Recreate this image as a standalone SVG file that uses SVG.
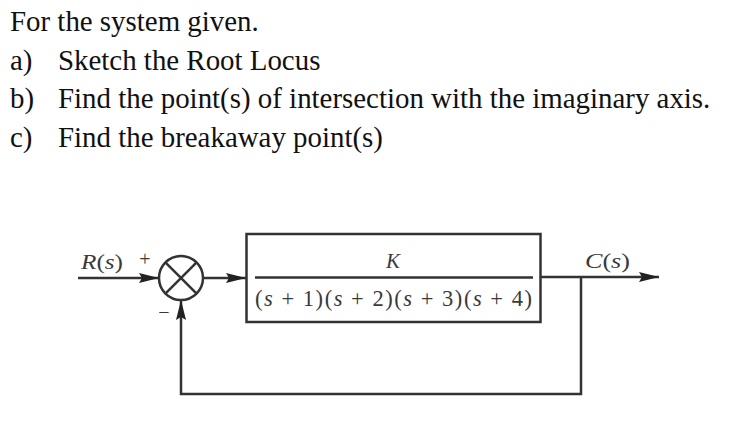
<svg xmlns="http://www.w3.org/2000/svg" width="732" height="427" viewBox="0 0 732 427">
<style>
.q{font-family:"Liberation Serif","Times New Roman",serif;font-size:28.9px;fill:#111}
.d{font-family:"Liberation Serif","Times New Roman",serif;fill:#3a3a3a}
.i{font-style:italic}
.ln{stroke:#333;stroke-width:2.5;fill:none}
</style>
<defs>
<marker id="ah" viewBox="0 0 20 12" refX="20" refY="6" markerWidth="20" markerHeight="12" markerUnits="userSpaceOnUse" orient="auto">
<path d="M0,1 L20,6 L0,11 L3,6 Z" fill="#222"/>
</marker>
</defs>
<rect width="732" height="427" fill="#fff"/>
<g id="question">
<text class="q" x="10" y="31">For the system given.</text>
<text class="q" x="10" y="70">a)</text>
<text class="q" x="58" y="70">Sketch the Root Locus</text>
<text class="q" x="10" y="108">b)</text>
<text class="q" x="58" y="108">Find the point(s) of intersection with the imaginary axis.</text>
<text class="q" x="10" y="147">c)</text>
<text class="q" x="58" y="147">Find the breakaway point(s)</text>
</g>
<g id="connectors">
<line class="ln" x1="78" y1="278" x2="159" y2="278" marker-end="url(#ah)"/>
<line class="ln" x1="203" y1="278" x2="246" y2="278" marker-end="url(#ah)"/>
<line class="ln" x1="541" y1="277" x2="659" y2="277" marker-end="url(#ah)"/>
<polyline class="ln" points="581,277 581,394 181,394 181,300" marker-end="url(#ah)"/>
</g>
<g id="sum">
<circle class="ln" cx="181" cy="278" r="22"/>
<line class="ln" x1="165.4" y1="262.4" x2="196.6" y2="293.6"/>
<line class="ln" x1="196.6" y1="262.4" x2="165.4" y2="293.6"/>
<text class="d" x="145" y="266" font-size="20" text-anchor="middle">+</text>
<text class="d" x="164" y="319" font-size="20" text-anchor="middle">−</text>
</g>
<g id="input">
<text class="d" x="81" y="269" font-size="22" textLength="42" lengthAdjust="spacingAndGlyphs"><tspan class="i">R</tspan>(<tspan class="i">s</tspan>)</text>
</g>
<g id="plant">
<rect class="ln" x="246.5" y="234" width="294" height="88"/>
<line class="ln" x1="255" y1="277.5" x2="533" y2="277.5"/>
<text class="d i" x="393" y="268" font-size="21" text-anchor="middle">K</text>
<text class="d" x="255" y="306" font-size="22.5" textLength="277" lengthAdjust="spacing">(<tspan class="i">s</tspan> + 1)(<tspan class="i">s</tspan> + 2)(<tspan class="i">s</tspan> + 3)(<tspan class="i">s</tspan> + 4)</text>
</g>
<g id="output">
<text class="d" x="585" y="268" font-size="22" textLength="45" lengthAdjust="spacingAndGlyphs"><tspan class="i">C</tspan>(<tspan class="i">s</tspan>)</text>
</g>
</svg>
